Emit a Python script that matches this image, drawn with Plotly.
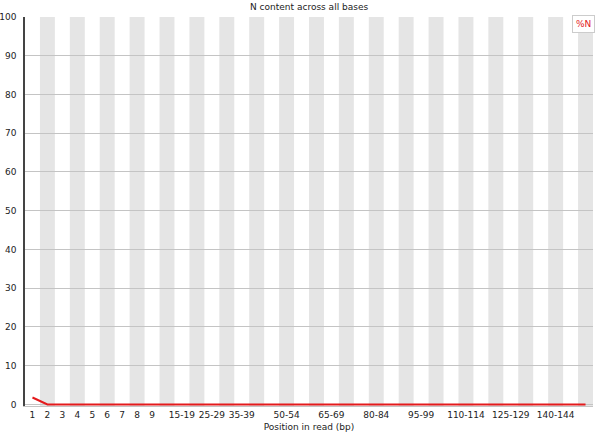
import plotly.graph_objects as go

# categories (position in read, bp)
positions = ["1", "2", "3", "4", "5", "6", "7", "8", "9",
             "10-14", "15-19", "20-24", "25-29", "30-34", "35-39", "40-44",
             "45-49", "50-54", "55-59", "60-64", "65-69", "70-74", "75-79",
             "80-84", "85-89", "90-94", "95-99", "100-104", "105-109",
             "110-114", "115-119", "120-124", "125-129", "130-134",
             "135-139", "140-144", "145-149", "150-151"]
pct_n = [1.8] + [0.0] * (len(positions) - 1)
shown_labels = ["1", "2", "3", "4", "5", "6", "7", "8", "9", "15-19", "25-29",
                "35-39", "50-54", "65-69", "80-84", "95-99", "110-114",
                "125-129", "140-144"]
y_ticks = [0, 10, 20, 30, 40, 50, 60, 70, 80, 90, 100]

idx = list(range(len(positions)))
font = "DejaVu Sans, sans-serif"

fig = go.Figure()

# alternating grey stripes behind the grid
for i in idx:
    if i % 2 == 1:
        fig.add_shape(type="rect", xref="x", yref="paper",
                      x0=i - 0.5, x1=i + 0.5, y0=0, y1=1,
                      fillcolor="#e5e5e5", line={"width": 0}, layer="below")

fig.add_trace(go.Scatter(
    x=idx, y=pct_n, mode="lines", name="%N",
    line={"color": "#e41a1c", "width": 2},
    showlegend=False,
))

fig.update_layout(
    width=600, height=437,
    margin={"l": 25, "r": 7, "t": 17, "b": 31},
    paper_bgcolor="white", plot_bgcolor="white",
    font={"family": font, "size": 9, "color": "#222"},
    annotations=[
        {"text": "N content across all bases", "xref": "paper", "yref": "paper",
         "x": 0.5, "y": 1, "yshift": 3, "yanchor": "bottom", "showarrow": False,
         "font": {"size": 9, "color": "#222"}},
        {"text": "%N", "xref": "paper", "yref": "paper", "x": 1.003, "y": 1.005,
         "xanchor": "right", "yanchor": "top", "showarrow": False,
         "font": {"size": 9, "color": "#e41a1c"},
         "bgcolor": "white", "bordercolor": "#cccccc", "borderwidth": 1, "borderpad": 3},
    ],
)

fig.update_xaxes(
    range=[-0.5, len(positions) - 0.5],
    tickmode="array",
    tickvals=[positions.index(p) for p in shown_labels],
    ticktext=shown_labels,
    tickangle=0, automargin=False,
    showgrid=False, zeroline=False,
    showline=True, linecolor="#c4c4c4", linewidth=1,
    ticks="", tickfont={"size": 9},
    title={"text": "Position in read (bp)", "font": {"size": 9}, "standoff": 4},
)
fig.update_yaxes(
    range=[-0.4, 100], tickmode="array", tickvals=y_ticks,
    automargin=False, ticklabelstandoff=5,
    showgrid=True, gridcolor="#c4c4c4", gridwidth=1,
    zeroline=False, showline=True, linecolor="#444444", linewidth=1.5,
    ticks="", tickfont={"size": 9},
)

fig.write_html("out.html", config={"displayModeBar": False},
               post_script="document.body.style.margin='0';")
